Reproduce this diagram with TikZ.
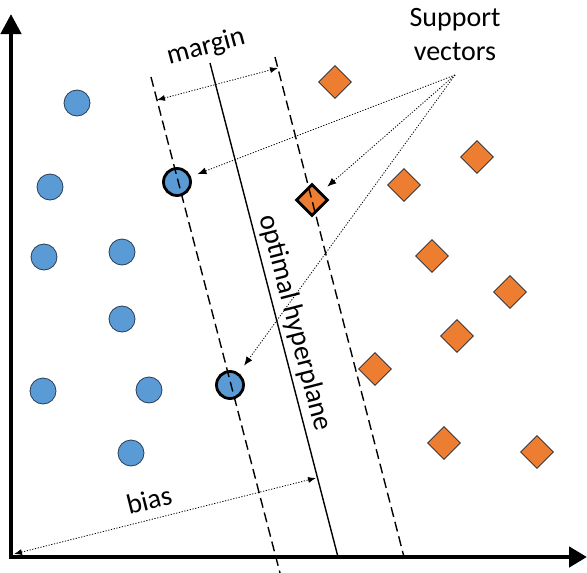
\documentclass[tikz,border=0pt]{standalone}
\usepackage{fontspec}
\setmainfont{Carlito}
\usetikzlibrary{arrows.meta,shapes.geometric}
\definecolor{cblue}{RGB}{91,155,213}
\definecolor{corange}{RGB}{237,125,49}
\definecolor{cedge}{RGB}{40,60,85}
\begin{document}
\begin{tikzpicture}[x=1pt,y=-1pt,
  pt/.style={circle,fill=cblue,draw=cedge,line width=0.8pt,minimum size=26pt,inner sep=0pt},
  spt/.style={pt,draw=black,line width=2.8pt,minimum size=27pt},
  dia/.style={diamond,aspect=1,fill=corange,draw=cedge!60!black,line width=0.8pt,minimum width=33pt,minimum height=33pt,inner sep=0pt},
  sdia/.style={dia,draw=black,line width=2.8pt,minimum width=32pt,minimum height=32pt},
  dots/.style={line width=0.8pt,dash pattern=on 1.2pt off 1.6pt},
  tip/.style={-{Latex[length=9pt,width=7pt]}},
  dtip/.style={{Latex[length=8pt,width=6pt]}-{Latex[length=8pt,width=6pt]}},
  lbl/.style={font=\fontsize{28}{34}\selectfont,inner sep=0pt},
  marg/.style={line width=1.4pt,dash pattern=on 10pt off 5pt},
  axis/.style={line width=4.5pt,line join=miter,{Triangle[length=20pt,width=20pt]}-{Triangle[length=18pt,width=20pt]}},
]
\useasboundingbox (0,0) rectangle (587,573);
% axes
\coordinate (Ytip) at (11,14);
\coordinate (O) at (11,557);
\coordinate (Xtip) at (587,557);
\draw[axis] (Ytip) -- (O) -- (Xtip);
% blue points
\node[pt] (b1) at (77,103) {};
\node[pt] (b2) at (50,187) {};
\node[pt] (b3) at (44,257) {};
\node[pt] (b4) at (122,252) {};
\node[pt] (b5) at (122,319) {};
\node[pt] (b6) at (43,391) {};
\node[pt] (b7) at (149,390) {};
\node[pt] (b8) at (131,453) {};
\node[spt] (sc1) at (177,182) {};
\node[spt] (sc2) at (230,385) {};
% orange points
\node[dia] (o1) at (335,82) {};
\node[dia] (o2) at (477,157) {};
\node[dia] (o3) at (404,185) {};
\node[dia] (o4) at (432,256) {};
\node[dia] (o5) at (510,292) {};
\node[dia] (o6) at (457,336) {};
\node[dia] (o7) at (375,369) {};
\node[dia] (o8) at (444,443) {};
\node[dia] (o9) at (537,452) {};
\node[sdia] (sd) at (312,200) {};
% hyperplane and margins
\coordinate (Ltop) at (151,77);
\coordinate (Lbot) at (280,573);
\coordinate (Htop) at (210,63);
\coordinate (Hbot) at (338,557);
\coordinate (Rtop) at (275,57);
\coordinate (Rbot) at (404,557);
\draw[marg] (Ltop) -- (Lbot);
\draw[marg] (Rtop) -- (Rbot);
\draw[line width=1.4pt] (Htop) -- (Hbot);
% margin
\coordinate (M1) at (157,100);
\coordinate (M2) at (278,68);
\draw[dots,dtip] (M1) -- (M2);
\node[lbl,rotate=15] (mlab) at (206,47) {margin};
% bias
\coordinate (B0) at (14,554);
\coordinate (B1) at (316,478);
\draw[dots,dtip] (B0) -- (B1);
\node[lbl,rotate=14] (blab) at (149,500) {bias};
% support vectors
\node[lbl,align=center] (svlab) at (455,35) {Support\\vectors};
\coordinate (S) at (455,75);
\draw[dots,tip,shorten >=7pt] (S) -- (sc1);
\draw[dots,tip,shorten >=8pt] (S) -- (sd);
\draw[dots,tip,shorten >=9pt] (S) -- (sc2);
% hyperplane label
\node[lbl,rotate=-75.5] (hlab) at (295,323) {optimal hyperplane};
\end{tikzpicture}
\end{document}
